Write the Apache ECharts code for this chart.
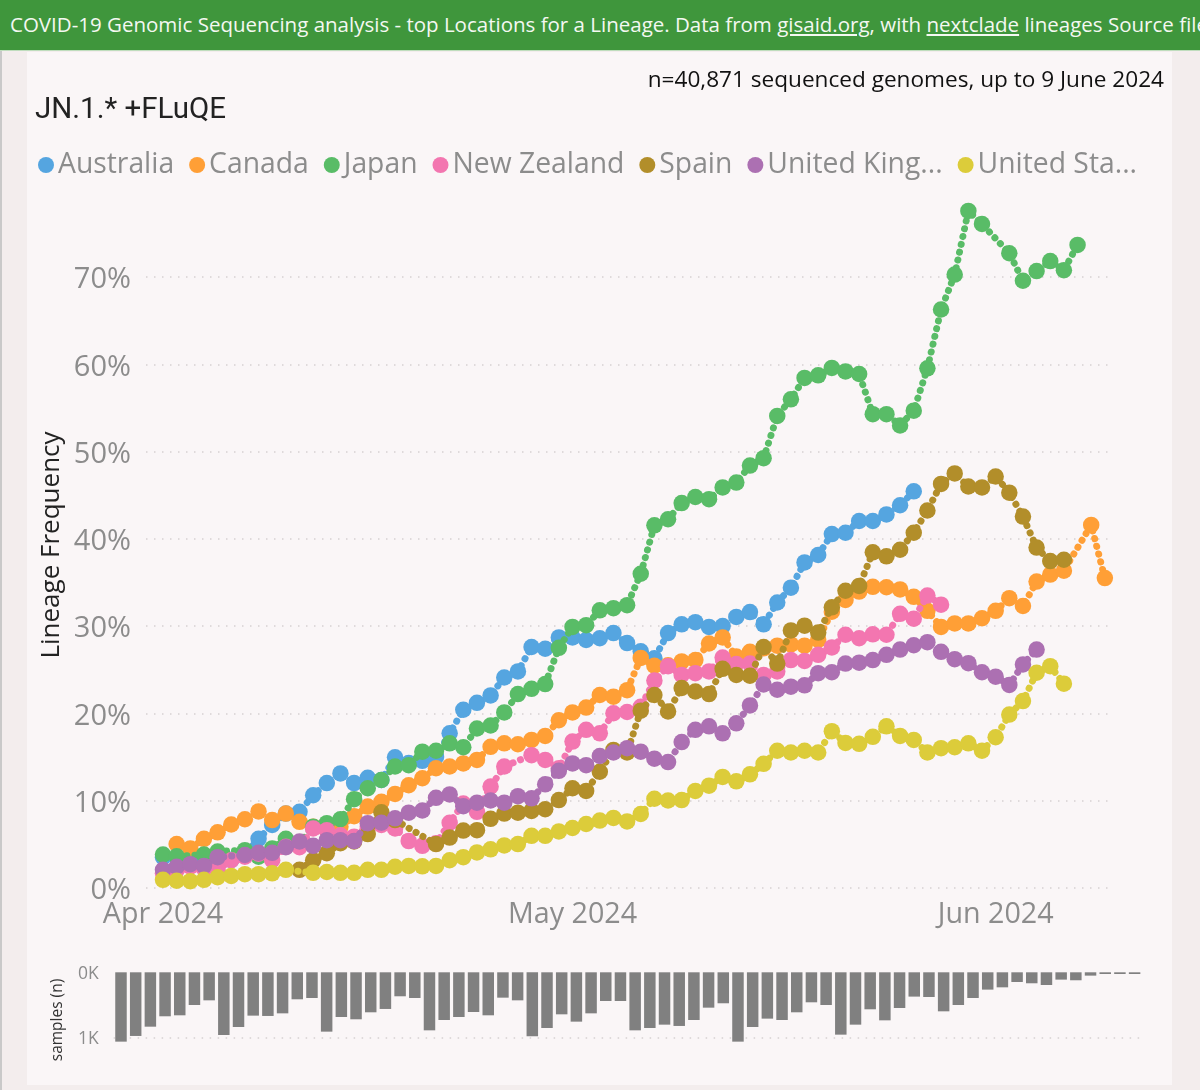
<!DOCTYPE html>
<html>
<head>
<meta charset="utf-8">
<title>JN.1.* +FLuQE</title>
<script src="https://cdn.jsdelivr.net/npm/echarts@6/dist/echarts.min.js"></script>
<style>
html,body{margin:0;padding:0;width:1200px;height:1090px;overflow:hidden;background:#F3EDED}
#chart{position:absolute;left:0;top:0;width:1200px;height:1090px}
#hdr{position:absolute;left:0;top:0;width:1200px;height:51px;line-height:48px;background:#3F963C;color:#F4F8F2;
 font-family:"Open Sans",sans-serif;font-size:20.5px;white-space:nowrap;overflow:hidden;padding-left:10px;box-sizing:border-box;border-bottom:1px solid #BFDDBD}
#hdr u{text-underline-offset:2px}
</style>
</head>
<body>
<div id="chart"></div>
<div id="hdr">COVID-19 Genomic Sequencing analysis - top Locations for a Lineage. Data from <u>gisaid.org</u>, with <u>nextclade</u> lineages Source file</div>
<script>
const countries = ["Australia","Canada","Japan","New Zealand","Spain","United Kingdom","United States"];
const legendLabels = ["Australia","Canada","Japan","New Zealand","Spain","United King...","United Sta..."];
const colors = ["#55A5E0","#FF9F36","#59BC67","#F376B0","#B28E2A","#AC70B2","#DCCC3A"];

// Lineage frequency (%), one value per day from 1 April 2024 (index 0)
const australia = [3.5,3.4,3.2,3.4,3.7,3.2,3.8,5.6,7.2,8.5,8.7,10.6,12.0,13.1,12.0,12.6,12.35,14.95,14.3,14.55,15.0,17.7,20.4,21.2,22.05,24.1,24.8,27.6,27.4,28.7,28.7,28.4,28.6,29.2,28.05,27.1,26.3,29.2,30.2,30.45,29.9,30,31.05,31.6,30.2,32.7,34.4,37.3,38.15,40.55,40.7,42.05,42.05,42.8,43.85,45.45];
const canada = [null,5.0,4.5,5.6,6.35,7.25,7.85,8.75,7.75,8.5,7.55,7.0,6.6,7.0,8.2,9.3,9.85,10.75,11.75,12.55,13.7,13.9,14.25,14.65,16.15,16.55,16.45,16.95,17.4,19.2,20.1,20.65,22.1,21.9,22.65,26.35,25.45,25.5,25.95,26.1,28,28.7,26.5,27.05,27.45,27.75,27.9,27.75,28.4,31.65,33,33.95,34.5,34.45,34.2,33.35,31.75,29.9,30.3,30.3,30.9,31.75,33.2,32.3,35.1,35.9,36.35,null,41.6,35.5];
const japan = [3.8,3.6,null,3.8,4.15,null,4.3,3.55,4.5,5.6,5.1,7.0,7.4,7.85,10.15,11.4,12.35,13.9,14.05,15.6,15.7,16.55,16.1,18.25,18.6,20.1,22.2,22.8,23.35,27.5,29.9,30.1,31.8,32.05,32.4,36,41.55,42.25,44.1,44.8,44.55,45.9,46.45,48.4,49.25,54.1,56,58.45,58.75,59.6,59.2,58.9,54.3,54.3,53,54.7,59.55,66.3,70.3,77.6,76.1,null,72.75,69.6,70.7,71.85,70.8,73.7];
const newZealand = [1.65,2,2.4,2.2,2.05,3.15,3.55,3.9,3.15,4.7,4.65,6.8,6.6,6.0,5.85,7,7.2,6.8,5.35,4.8,5.1,7.45,9.65,8.7,11.6,13.9,null,15.2,14.65,13.7,16.75,18.1,17.7,20,20.15,20.75,23.75,25.4,24.4,24.6,24.8,26.4,25.65,25.7,24.4,24.8,26.1,26,26.7,27.55,29,28.6,29.05,29,31.4,30.85,33.5,32.45];
const spain = [null,null,null,null,null,null,null,null,null,null,2.05,3.15,3.95,5.1,5.3,6.15,8.65,7.75,null,null,5,5.75,6.55,6.6,7.9,8.5,8.6,8.8,9,10.05,11.4,11.1,13.3,15.8,15.5,20.3,22.1,20.2,22.9,22.5,22.2,25.1,24.4,24.3,27.6,25.7,29.5,30.05,29.25,32.15,34.05,34.6,38.45,38,38.75,40.7,43.25,46.3,47.5,46,45.9,47.15,45.3,42.55,39,37.45,37.6];
const unitedKingdom = [2.05,2.4,2.7,2.5,3.5,null,3.75,4,4,4.65,5.3,4.8,5.45,5.45,5.35,7.4,7.45,7.95,8.6,8.85,10.3,10.7,9.35,9.75,10,9.75,10.5,10.25,11.85,13.4,14.25,14.05,15.1,15.5,16,15.6,14.8,14.4,16.7,18.1,18.5,17.7,18.85,20.9,23.3,22.7,23.05,23.2,24.6,24.7,25.7,25.8,26.1,26.7,27.3,27.8,28.15,27.05,26.2,25.75,24.7,24.2,23.25,25.6,27.3];
const unitedStates = [0.9,0.8,0.75,0.9,1.2,1.35,1.55,1.55,1.65,2.05,null,1.7,1.8,1.7,1.7,2.05,2.05,2.4,2.5,2.45,2.5,3.15,3.5,4.05,4.4,4.85,5,5.95,5.95,6.45,6.85,7.3,7.7,8,7.6,8.45,10.2,10,10.05,11.1,11.7,12.7,12.2,13,14.2,15.7,15.5,15.7,15.5,17.95,16.6,16.5,17.3,18.5,17.4,16.95,15.5,16,16.1,16.55,15.7,17.25,19.85,21.4,24.65,25.4,23.4];

// Daily sample counts, 1 April to 9 June 2024
const samples = [1061,974,832,673,658,500,429,959,837,663,668,628,413,393,908,684,719,612,561,367,393,888,730,684,607,658,388,429,980,852,643,755,628,439,439,888,852,801,821,730,541,474,1061,837,709,730,612,459,500,954,801,566,735,546,372,378,597,500,393,265,230,148,168,194,112,122,51,26,26,26];
const sampleDays = samples.map((_, i) => "D" + i);

const monthTickDays = [0, 30, 61];
const monthLabels = ["Apr 2024", "May 2024", "Jun 2024"];
const freqTicks = 10;

const allSeries = [australia, canada, japan, newZealand, spain, unitedKingdom, unitedStates];
const GRAY = "#8C8C8C";
const FONT = '"Open Sans", sans-serif';
const chart = echarts.init(document.getElementById("chart"), null, {renderer: "canvas"});

// Main plot geometry: day 0 at x=163, 13.65 px per day; 0% at y=887.7, 8.72 px per 1%
const gL = 146, gR = 1113, gTop = 190.1, gBot = 887.7;
const dayMin = (gL - 163) / 13.65, dayMax = (gR - 163) / 13.65;

const lineSeries = countries.map((name, s) => ({
  name, type: "line", xAxisIndex: 0, yAxisIndex: 0,
  data: allSeries[s].map((v, i) => [i, v]).filter(p => p[1] !== null),
  symbol: "circle", symbolSize: 16.5, showSymbol: true, showAllSymbol: true,
  itemStyle: {color: colors[s]},
  lineStyle: {color: colors[s], width: 7, type: [0.1, 7.9], cap: "round"},
  z: 3 + s, silent: true, animation: false
}));

chart.setOption({
  animation: false,
  backgroundColor: "transparent",
  title: {
    text: "JN.1.* +FLuQE", left: 30, top: 91,
    textStyle: {fontFamily: '"Roboto", sans-serif', fontSize: 29.5, fontWeight: 400, color: "#222222"}
  },
  legend: {
    left: 33, top: 146, icon: "circle", itemWidth: 16, itemHeight: 16, itemGap: 15,
    data: countries.map((c, i) => ({name: c})),
    formatter: n => legendLabels[countries.indexOf(n)],
    textStyle: {fontFamily: FONT, fontSize: 28.3, color: GRAY, padding: [0, 0, 0, -1]},
    selectedMode: false
  },
  grid: [
    {left: gL, width: gR - gL, top: gTop, height: gBot - gTop},
    {left: 113.65, width: 1028.3, top: 972.3, height: 71.9}
  ],
  xAxis: [
    {
      type: "value", gridIndex: 0, min: dayMin, max: dayMax,
      splitLine: {show: false}, axisLine: {show: false}, axisTick: {show: false},
      axisLabel: {
        customValues: monthTickDays,
        formatter: v => monthLabels[monthTickDays.indexOf(v)],
        fontFamily: FONT, fontSize: 28.7, color: GRAY, margin: 13
      }
    },
    {
      type: "category", gridIndex: 1, data: sampleDays,
      axisLine: {show: false}, axisTick: {show: false}, axisLabel: {show: false}
    }
  ],
  yAxis: [
    {
      type: "value", gridIndex: 0, min: 0, max: 79.99, interval: freqTicks,
      axisLine: {show: false}, axisTick: {show: false},
      axisLabel: {
        formatter: v => "{v|" + v + "%}", showMaxLabel: false, margin: 15,
        rich: {v: {fontFamily: FONT, fontSize: 29, color: GRAY, padding: [6, 0, 0, 0]}}
      },
      splitLine: {show: true, showMaxLine: false, lineStyle: {color: "#D6D1D2", width: 1.5, type: [1.5, 6.5]}}
    },
    {
      type: "value", gridIndex: 1, inverse: true, min: 0, max: 1100, interval: 1000,
      axisLine: {show: false}, axisTick: {show: false},
      axisLabel: {
        formatter: v => "{v|" + (v / 1000) + "K}", showMaxLabel: false, margin: 15,
        rich: {v: {fontFamily: FONT, fontSize: 17.5, color: GRAY, padding: [3, 0, 0, 0]}}
      },
      splitLine: {show: true, showMinLine: false, showMaxLine: false, lineStyle: {color: "#D6D1D2", width: 1.5, type: [1.5, 6.5]}}
    }
  ],
  series: lineSeries.concat([{
    name: "samples (n)", type: "bar", xAxisIndex: 1, yAxisIndex: 1,
    data: samples, barWidth: 11.5, itemStyle: {color: "#808080"}, silent: true, animation: false
  }]),
  graphic: [
    {type: "rect", z: -10, silent: true, shape: {x: 0, y: 0, width: 2, height: 1090}, style: {fill: "#C9C9C9"}},
    {type: "rect", z: -9, silent: true, shape: {x: 27, y: 52, width: 1145, height: 1033}, style: {fill: "#FAF6F7"}},
    {type: "text", z: 20, silent: true, x: 1164, y: 81, style: {
      text: "n=40,871 sequenced genomes, up to 9 June 2024", align: "right", verticalAlign: "middle",
      font: '22.6px "Open Sans", sans-serif', fill: "#111111"}},
    {type: "text", z: 20, silent: true, x: 52, y: 545, rotation: Math.PI / 2, style: {
      text: "Lineage Frequency", align: "center", verticalAlign: "middle",
      font: '26px "Open Sans", sans-serif', fill: "#222222"}},
    {type: "text", z: 20, silent: true, x: 58, y: 1020, rotation: Math.PI / 2, style: {
      text: "samples (n)", align: "center", verticalAlign: "middle",
      font: '15.5px "Open Sans", sans-serif', fill: "#333333"}}
  ]
});
</script>
</body>
</html>
